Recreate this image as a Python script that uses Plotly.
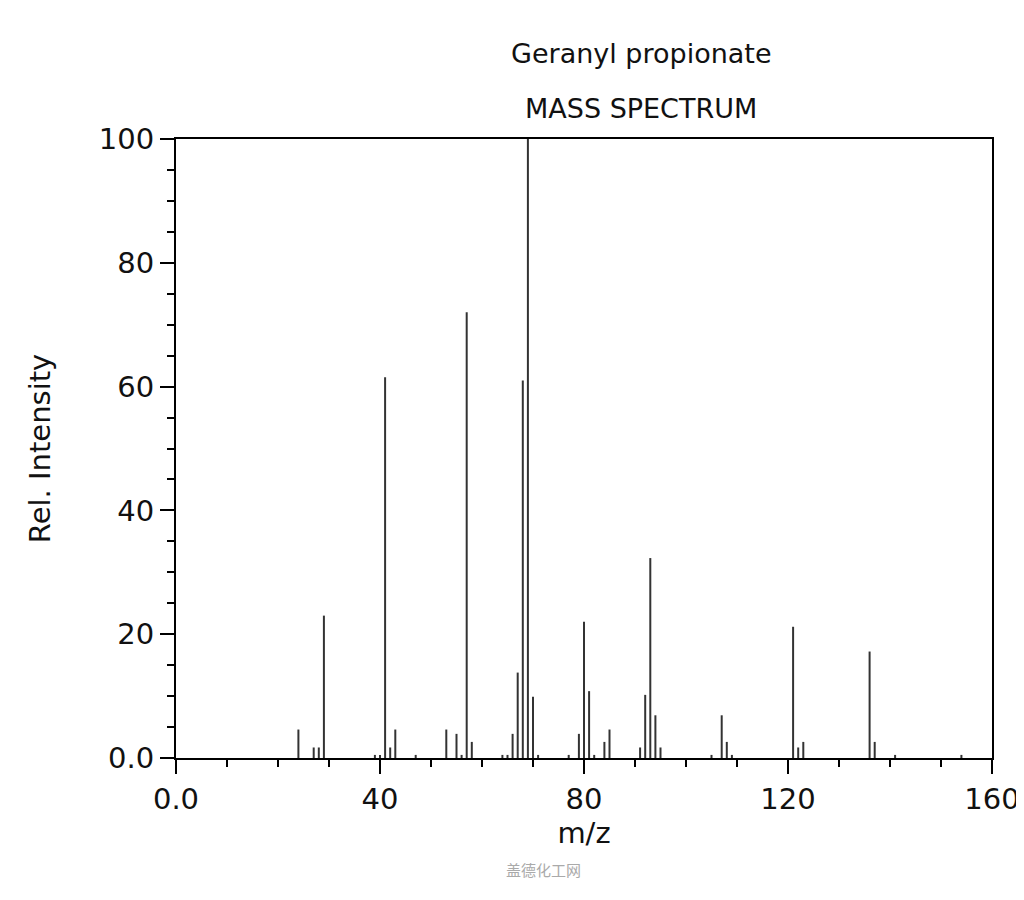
import plotly.graph_objects as go

# m/z and relative intensity
mz = [24, 27, 28, 29, 39, 40, 41, 42, 43, 47, 53, 55, 56, 57, 58,
      64, 65, 66, 67, 68, 69, 70, 71, 77, 79, 80, 81, 82, 84, 85,
      91, 92, 93, 94, 95, 105, 107, 108, 109, 121, 122, 123, 136, 137, 141, 154]
intensity = [4.6, 1.7, 1.7, 23, 0.5, 0.5, 61.5, 1.7, 4.6, 0.5, 4.6, 3.9, 0.5, 72, 2.6,
             0.5, 0.5, 3.9, 13.8, 61, 100, 9.9, 0.5, 0.5, 3.9, 22, 10.8, 0.5, 2.6, 4.6,
             1.7, 10.2, 32.3, 6.9, 1.7, 0.5, 6.9, 2.6, 0.5, 21.2, 1.7, 2.6, 17.2, 2.6, 0.5, 0.5]
title_lines = ["Geranyl propionate", "MASS SPECTRUM"]

xs, ys = [], []
for m, v in zip(mz, intensity):
    xs += [m, m, None]
    ys += [0, v, None]

fig = go.Figure(go.Scatter(x=xs, y=ys, mode="lines",
                           line=dict(color="#333333", width=2), hoverinfo="skip"))

font = "DejaVu Sans"
fig.update_layout(
    width=1024, height=900, plot_bgcolor="white", paper_bgcolor="white",
    margin=dict(l=168, r=38, t=131, b=150),
    showlegend=False,
)
for txt, ypx in zip(title_lines, [45, 100]):
    fig.add_annotation(text=txt, x=0.57, xref="paper", y=(750 - ypx) / 619, yref="paper",
                       showarrow=False, yanchor="middle",
                       font=dict(family=font, size=27, color="#111"))
fig.update_xaxes(range=[0, 160], tickvals=[0, 40, 80, 120, 160],
                 ticktext=["0.0", "40", "80", "120", "160"],
                 ticks="outside", ticklen=14, tickwidth=2, tickcolor="black",
                 minor=dict(dtick=10, ticks="outside", ticklen=7, tickcolor="black"),
                 showline=True, linecolor="black", linewidth=2, mirror=True,
                 showgrid=False, zeroline=False,
                 tickfont=dict(family=font, size=29, color="#111"),
                 title=dict(text="m/z", font=dict(family=font, size=29, color="#111"), standoff=4))
fig.update_yaxes(range=[0, 100], tickvals=[0, 20, 40, 60, 80, 100],
                 ticktext=["0.0", "20", "40", "60", "80", "100"],
                 ticks="outside", ticklen=14, tickwidth=2, tickcolor="black",
                 minor=dict(dtick=5, ticks="outside", ticklen=7, tickcolor="black"),
                 showline=True, linecolor="black", linewidth=2, mirror=True,
                 showgrid=False, zeroline=False,
                 tickfont=dict(family=font, size=29, color="#111"),
                 title=dict(text="Rel. Intensity", font=dict(family=font, size=29, color="#111"), standoff=40))
fig.add_annotation(text="盖德化工网", x=0.45, xref="paper", y=-0.2, yref="paper",
                   showarrow=False, font=dict(family="Noto Sans CJK SC", size=15, color="#aaaaaa"))

fig.write_html("out.html")
